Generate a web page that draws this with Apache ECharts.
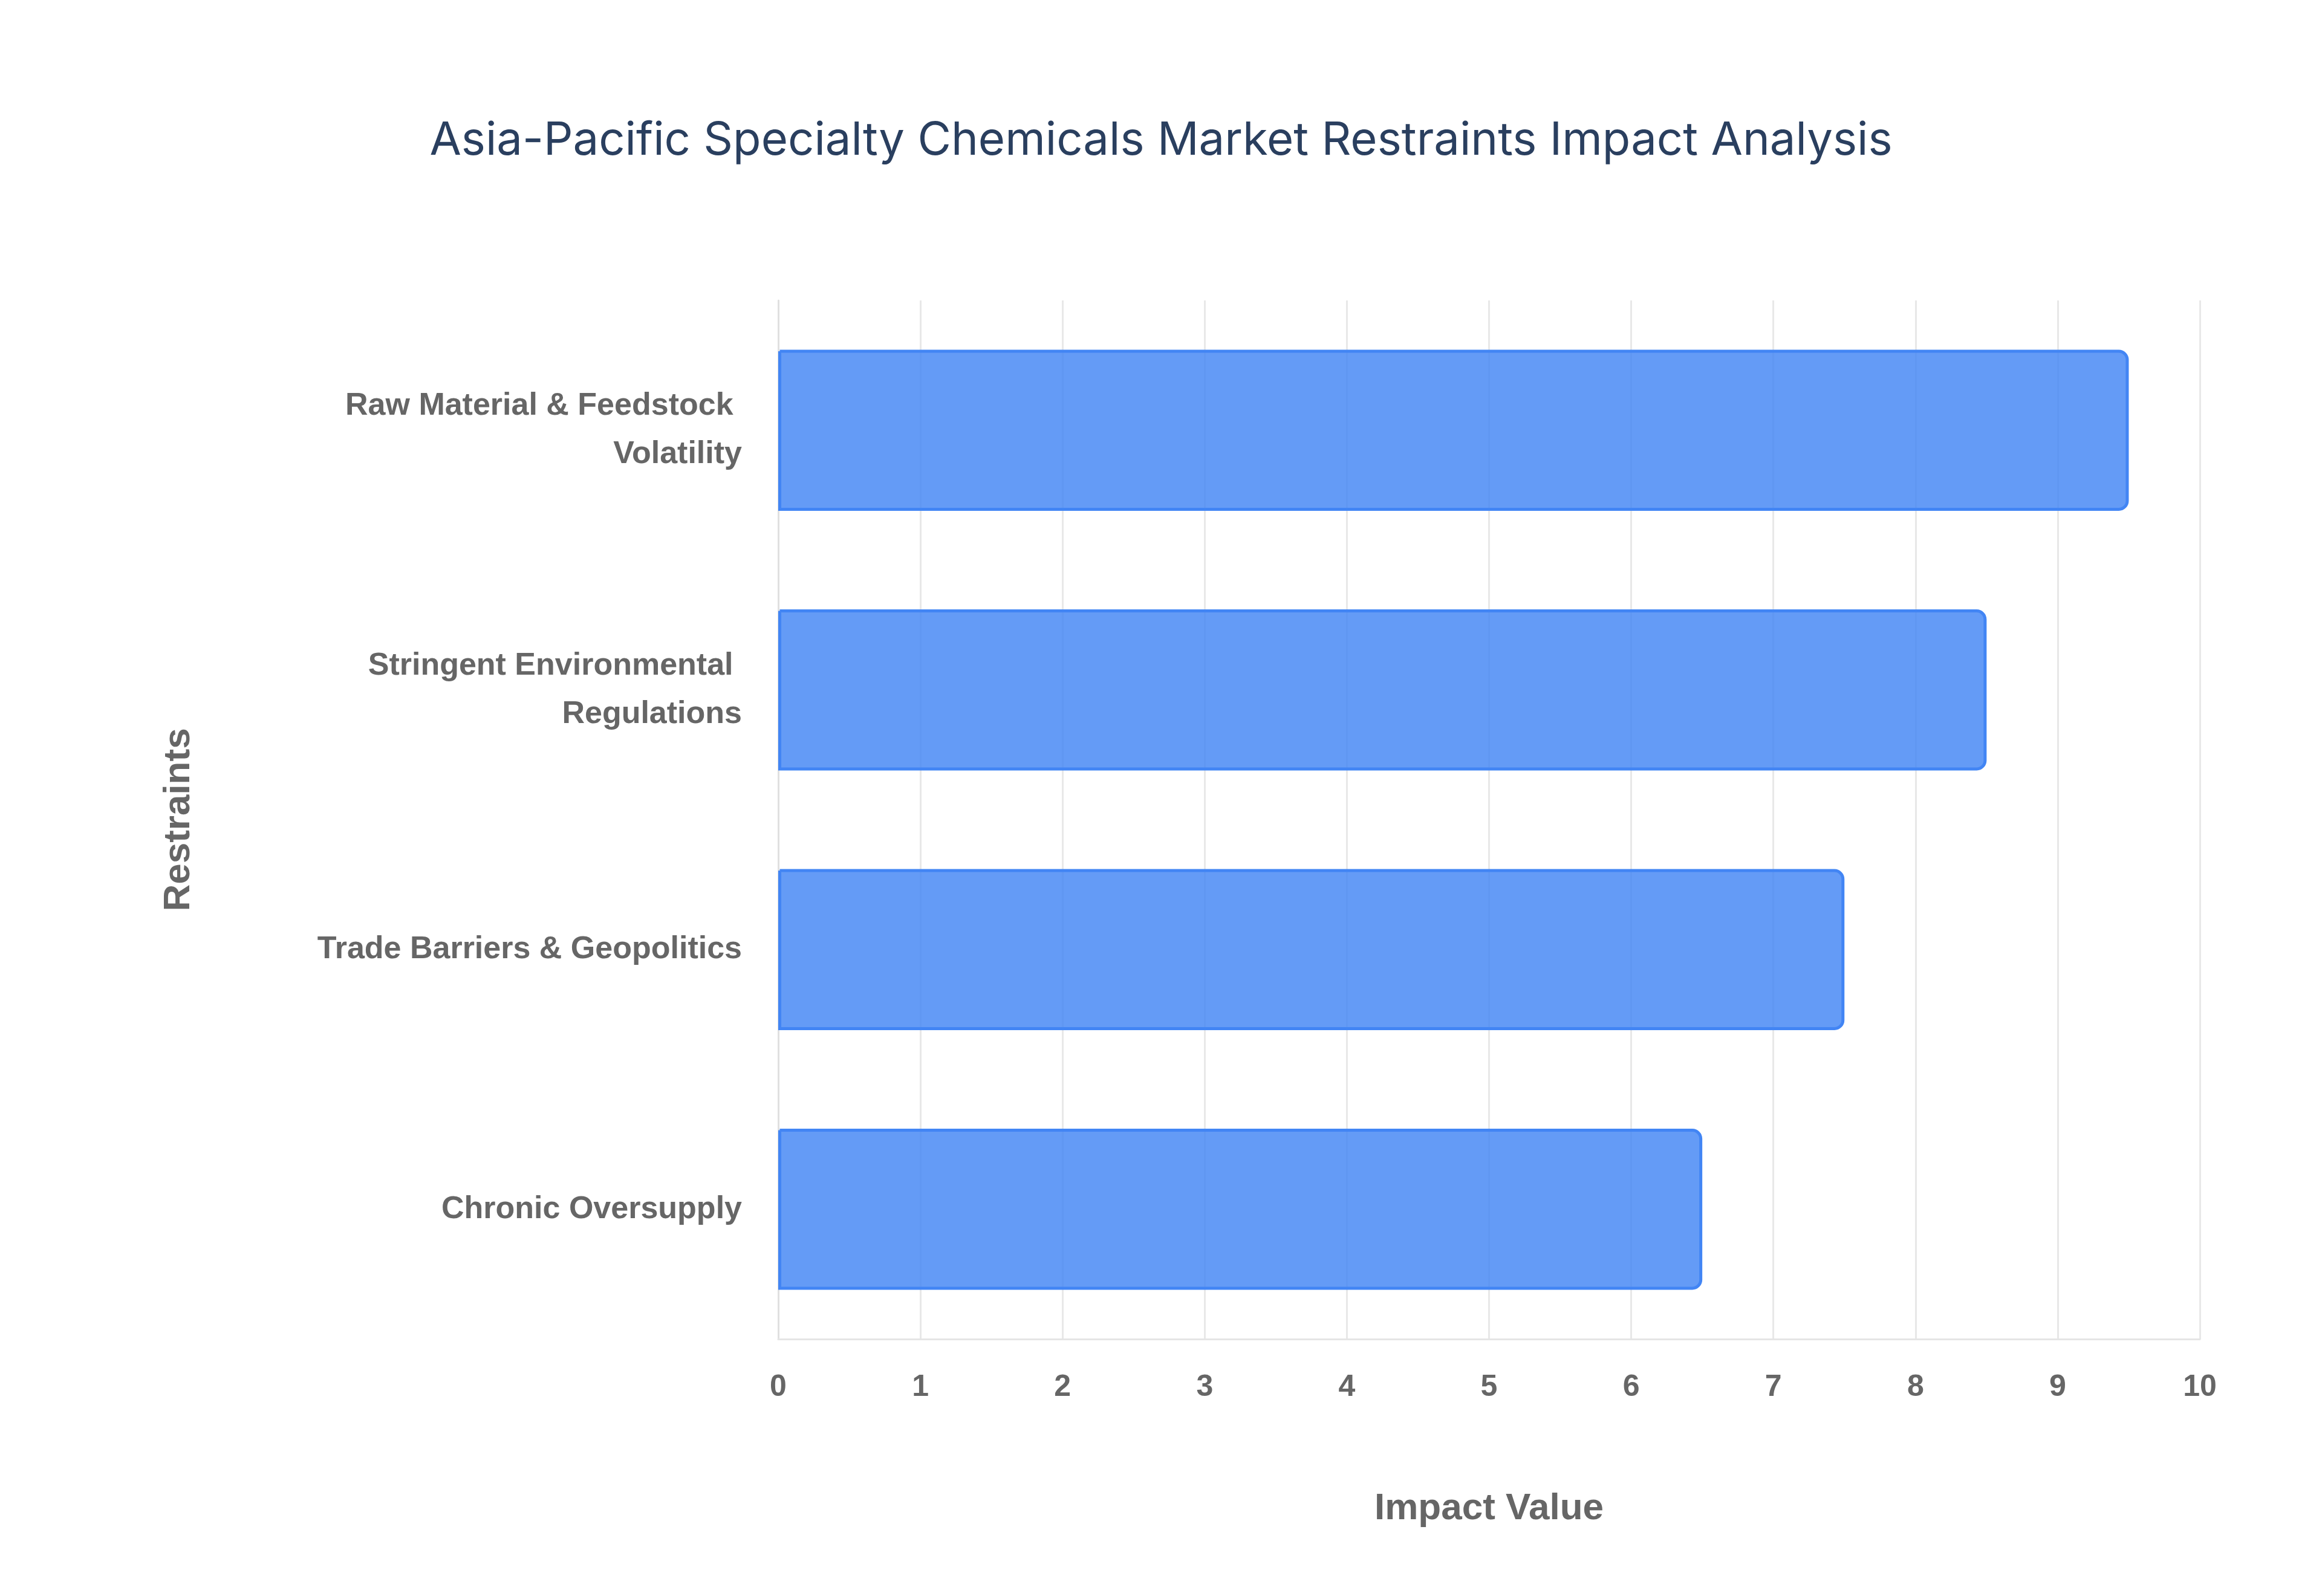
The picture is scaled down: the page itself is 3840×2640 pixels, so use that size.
<!DOCTYPE html>
<html>
<head>
<meta charset="utf-8">
<script src="https://cdn.jsdelivr.net/npm/echarts@6/dist/echarts.min.js"></script>
<style>html,body{margin:0;padding:0;background:#fff}#main{width:3840px;height:2640px}</style>
</head>
<body>
<div id="main"></div>
<script>
var categories = ['Chronic Oversupply', 'Trade Barriers & Geopolitics', 'Stringent Environmental Regulations', 'Raw Material & Feedstock Volatility'];
var impactValues = [6.5, 7.5, 8.5, 9.5];

var chart = echarts.init(document.getElementById('main'));

var option = {
  backgroundColor: '#ffffff',
  title: {
    text: 'Asia-Pacific Specialty Chemicals Market Restraints Impact Analysis',
    left: 'center',
    top: 190,
    textStyle: { fontFamily: 'Inter', fontSize: 76, fontWeight: 'normal', color: '#2a3f5f' }
  },
  grid: { left: 1287, right: 202, top: 497, bottom: 425 },
  xAxis: {
    type: 'value',
    min: 0,
    max: 10,
    interval: 1,
    name: 'Impact Value',
    nameLocation: 'middle',
    nameGap: 250,
    nameTextStyle: { fontFamily: 'Liberation Sans', fontSize: 62, fontWeight: 'bold', color: '#666' },
    axisLine: { show: true, lineStyle: { color: '#e5e5e5', width: 3 } },
    axisTick: { show: false },
    axisLabel: { fontFamily: 'Liberation Sans', fontSize: 50, fontWeight: 'bold', color: '#666', margin: 55 },
    splitLine: { show: true, lineStyle: { color: '#e8e8e8', width: 3 } }
  },
  yAxis: {
    type: 'category',
    data: categories,
    name: 'Restraints',
    nameLocation: 'middle',
    nameGap: 960,
    nameTextStyle: { fontFamily: 'Liberation Sans', fontSize: 62, fontWeight: 'bold', color: '#666' },
    axisLine: { show: true, lineStyle: { color: '#e0e0e0', width: 3 } },
    axisTick: { show: false },
    axisLabel: {
      fontFamily: 'Liberation Sans', fontSize: 52, fontWeight: 'bold', color: '#666',
      margin: 60, width: 820, overflow: 'break', lineHeight: 80, align: 'right'
    }
  },
  series: [{
    type: 'bar',
    data: impactValues,
    barWidth: '62%',
    itemStyle: {
      color: 'rgba(66,133,244,0.82)',
      borderColor: '#4285f4',
      borderWidth: 5,
      borderRadius: [0, 14, 14, 0]
    }
  }]
};

chart.setOption(option);
</script>
</body>
</html>
